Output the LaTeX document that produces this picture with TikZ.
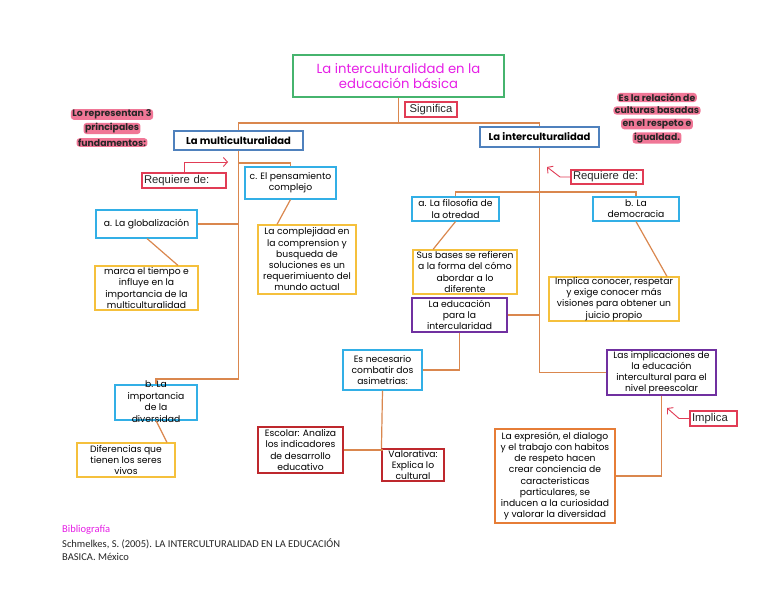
\documentclass[tikz,border=0pt]{standalone}
\usepackage{fontspec}
\setmainfont{Poppins}
\newfontfamily\arialf{Liberation Sans}
\newfontfamily\calib{Carlito}
\usetikzlibrary{arrows.meta,calc}
\definecolor{lineor}{RGB}{218,135,78}
\definecolor{cyanbox}{RGB}{50,175,230}
\definecolor{steelbox}{RGB}{79,129,189}
\definecolor{yellowbox}{RGB}{245,192,60}
\definecolor{redbox}{RGB}{225,60,85}
\definecolor{darkredbox}{RGB}{190,40,45}
\definecolor{purplebox}{RGB}{112,48,160}
\definecolor{greenbox}{RGB}{70,180,110}
\definecolor{orangebox}{RGB}{230,125,55}
\definecolor{magtext}{RGB}{230,30,230}
\definecolor{pinkhl}{RGB}{240,118,150}
\begin{document}
\begin{tikzpicture}[x=1pt,y=-1pt,
  box/.style={draw,line width=1.1pt,inner sep=0.3pt,align=center,text=black,
    font=\fontsize{9.2}{11.2}\selectfont},
  cybox/.style={box,draw=cyanbox},
  stbox/.style={box,draw=steelbox,font=\fontsize{10}{12}\selectfont\bfseries},
  yebox/.style={box,draw=yellowbox},
  rebox/.style={box,draw=redbox,inner sep=1pt,font=\arialf\fontsize{11.3}{13}\selectfont,text=black!85},
  drbox/.style={box,draw=darkredbox},
  pubox/.style={box,draw=purplebox},
  orbox/.style={box,draw=orangebox},
  conn/.style={draw=lineor,line width=1.2pt},
  redarr/.style={draw=redbox,line width=0.9pt,-{Straight Barb[length=4pt,width=9pt]}},
  hl/.style={fill=pinkhl,rounded corners=3pt,inner xsep=1.5pt,inner ysep=0.6pt,
    text=black!85,font=\fontsize{9.3}{10}\selectfont\bfseries},
]
\useasboundingbox[fill=white] (0,0) rectangle (768,594);

% title
\node[box,draw=greenbox,minimum width=211,minimum height=42,text=magtext,
  font=\fontsize{13.2}{15}\selectfont] (title) at (398.5,76)
  {La interculturalidad en la\\educación básica};
\node[rebox,minimum width=52,minimum height=15] (signif) at (431,109.5) {Significa};

% main nodes
\node[stbox,minimum width=129,minimum height=19] (multi) at (238.5,140.5) {La multiculturalidad};
\node[stbox,minimum width=119,minimum height=20] (inter) at (539.5,137) {La interculturalidad};

% left side
\node[rebox,minimum width=84,minimum height=15,text width=80,align=left] (reqL) at (184,180.5) {Requiere de:};
\node[cybox,minimum width=91,minimum height=32] (pens) at (290.5,183) {c. El pensamiento\\complejo};
\node[cybox,minimum width=101,minimum height=28] (glob) at (146.5,224) {a. La globalización};
\node[yebox,minimum width=103,minimum height=44] (marca) at (146.5,288)
  {marca el tiempo e\\influye en la\\importancia de la\\multiculturalidad};
\node[yebox,minimum width=98,minimum height=69] (compl) at (307,259.5)
  {La complejidad en\\la comprension y\\busqueda de\\soluciones es un\\requerimiuento del\\mundo actual};
\node[cybox,minimum width=82,minimum height=35] (impo) at (156,402.5) {};
\node[align=center,inner sep=0pt,font=\fontsize{9.2}{11.5}\selectfont] (impot) at (156,401.5)
  {b. La\\importancia\\de la\\diversidad};
\node[yebox,minimum width=98,minimum height=34] (dif) at (126,460)
  {Diferencias que\\tienen los seres\\vivos};

% right side
\node[rebox,minimum width=72,minimum height=14,text width=68,align=left] (reqR) at (607,177) {Requiere de:};
\node[cybox,minimum width=87,minimum height=24] (filo) at (455.5,209) {a. La filosofia de\\la otredad};
\node[cybox,minimum width=86,minimum height=24] (demo) at (636,209) {b. La\\democracia};
\node[yebox,minimum width=104,minimum height=44] (bases) at (465,272)
  {Sus bases se refieren\\a la forma del cómo\\abordar a lo\\diferente};
\node[yebox,minimum width=130,minimum height=44] (implc) at (614,299)
  {Implica conocer, respetar\\y exige conocer más\\visiones para obtener un\\juicio propio};
\node[pubox,minimum width=95,minimum height=34] (edu) at (459.5,315)
  {La educación\\para la\\intercularidad};
\node[cybox,minimum width=79,minimum height=40] (nec) at (382.5,370)
  {Es necesario\\combatir dos\\asimetrias:};
\node[drbox,minimum width=85,minimum height=46] (esc) at (300.5,450)
  {Escolar: Analiza\\los indicadores\\de desarrollo\\educativo};
\node[drbox,minimum width=62,minimum height=32] (valo) at (413,465)
  {Valorativa:\\Explica lo\\cultural};
\node[pubox,minimum width=109,minimum height=45] (impl2) at (661.5,372.5)
  {Las implicaciones de\\la educación\\intercultural para el\\nivel preescolar};
\node[orbox,minimum width=120,minimum height=94] (expr) at (555,476)
  {La expresión, el dialogo\\y el trabajo con habitos\\de respeto hacen\\crear conciencia de\\caracteristicas\\particulares, se\\inducen a la curiosidad\\y valorar la diversidad};
\node[rebox,minimum width=47,minimum height=15,text width=43,align=left] (implica) at (713.5,418.5) {Implica};

% pink highlighted notes
\node[hl] (pl1) at (112,114.5) {Lo representan 3};
\node[hl] (pl2) at (112,128.5) {principales};
\node[hl] (pl3) at (112,142.5) {fundamentos:};
\node[hl] (pr1) at (657,97.5) {Es la relación de};
\node[hl] (pr2) at (657,110.5) {culturas basadas};
\node[hl] (pr3) at (657,124) {en el respeto e};
\node[hl] (pr4) at (657,138) {igualdad.};

% bibliography
\node[anchor=west,inner sep=0pt,text=magtext,font=\calib\fontsize{10.5}{12}\selectfont] (bib) at (62,529.5) {Bibliografía};
\node[anchor=west,inner sep=0pt,text=black!85,font=\calib\fontsize{10.5}{12}\selectfont] (bib1) at (62,543.5) {Schmelkes, S. (2005). LA INTERCULTURALIDAD EN LA EDUCACIÓN};
\node[anchor=west,inner sep=0pt,text=black!85,font=\calib\fontsize{10.5}{12}\selectfont] (bib2) at (62,557) {BASICA. México};

% helper coordinates
\coordinate (hub) at (398.5,123);
\coordinate (pensj) at (238.5,163);
\coordinate (lbend) at (238.5,379);
\coordinate (rj) at (539.5,192);
\coordinate (reqLtip) at (228,162);
\coordinate (reqRmid) at (560,177);
\coordinate (reqRtip) at (547,167);
\coordinate (implmid) at (679,418.5);
\coordinate (impltip) at (667,408);

% connectors
\path[conn] (title.south) -- (hub);
\path[conn] (multi.north) |- (hub) -| (inter.north);
\path[conn] (multi.south) -- (lbend) -| (impo.north);
\path[conn] (pensj) -| (pens.north);
\path[conn] (glob.east) -- (glob.east -| multi.south);
\path[conn] ([xshift=0.5pt]glob.south) -- ([xshift=31.5pt]marca.north);
\path[conn] (pens.south) -- ([xshift=-30pt]compl.north);
\path[conn] (impo.south) -- ([xshift=41pt]dif.north);

\path[conn] (inter.south) |- (impl2.west);
\path[conn] (filo.north) |- (rj) -| (demo.north);
\path[conn] (filo.south) -- ([xshift=-32pt]bases.north);
\path[conn] (demo.south) -- ([xshift=53pt]implc.north);
\path[conn] (edu.east) -- (edu.east -| inter.south);
\path[conn] (edu.south) |- (nec.east);
\path[conn] (nec.south) -- (valo.north west);
\path[conn] (esc.east) -- (esc.east -| nec.south);
\path[conn] (impl2.south) |- (expr.east);

% red arrows
\draw[redarr] (reqL.north) |- (reqLtip);
\draw[redarr] (reqR.west) -- (reqRmid) -- (reqRtip);
\draw[redarr] (implica.west) -- (implmid) -- (impltip);
\end{tikzpicture}
\end{document}
